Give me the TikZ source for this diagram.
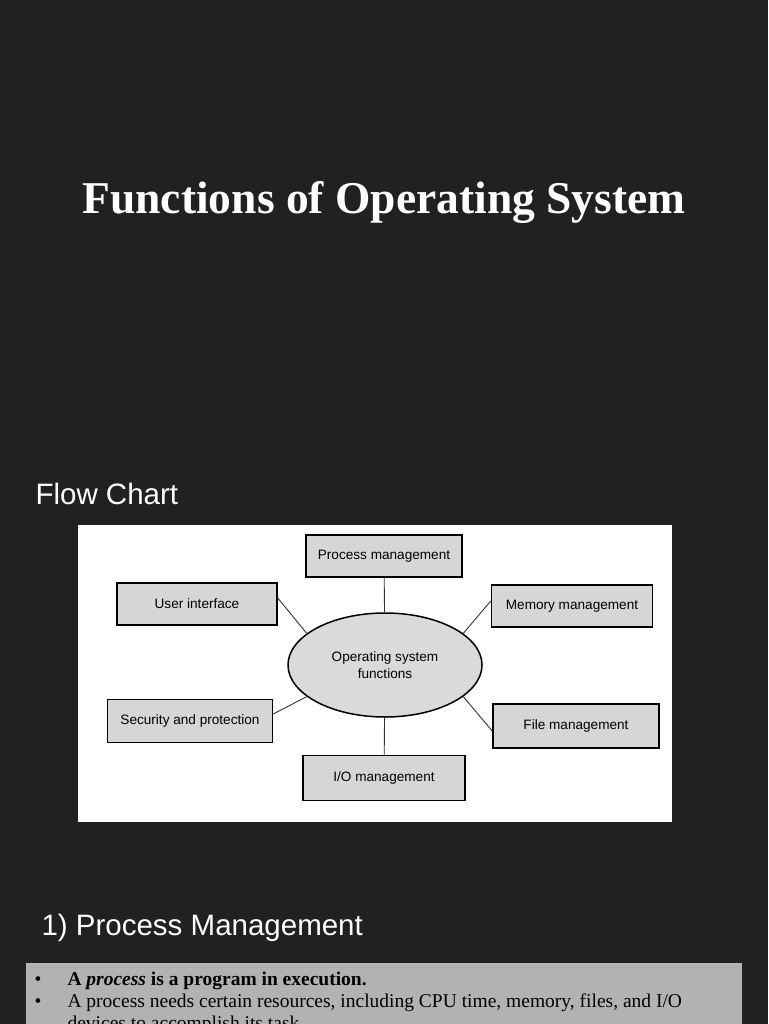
\documentclass[tikz,border=0pt]{standalone}
\usepackage{fontspec}
\setmainfont{Liberation Serif}
\newfontfamily\arialf{Liberation Sans}
\usetikzlibrary{shapes.geometric}
\definecolor{bgc}{HTML}{212121}
\definecolor{boxg}{HTML}{D6D6D6}
\definecolor{panelg}{HTML}{B2B2B2}
\begin{document}
\begin{tikzpicture}[x=1pt,y=-1pt,
  fbox/.style={draw=black,line width=1.5pt,fill=boxg,font=\arialf\fontsize{13.6}{16}\selectfont,inner sep=0pt},
  conn/.style={draw=black!80,line width=0.9pt}]
\fill[bgc] (0,0) rectangle (768,1024);
\useasboundingbox (0,0) rectangle (768,1024);
\node[font=\bfseries\fontsize{45.5}{52}\selectfont,text=white] (title) at (384,203) {Functions of Operating System};
\node[font=\arialf\fontsize{29.5}{34}\selectfont,text=white,anchor=west] (fc) at (32,494) {Flow Chart};
\fill[white] (78,525) rectangle (672,822);
\node[ellipse,draw=black,line width=1.5pt,fill=boxg!90,minimum width=194pt,minimum height=104pt,align=center,font=\arialf\fontsize{13.6}{17}\selectfont] (os) at (385,665) {Operating system\\functions};
\node[fbox,minimum width=156pt,minimum height=42pt] (pm) at (384,556) {Process management};
\node[fbox,minimum width=160pt,minimum height=42pt] (ui) at (197,604) {User interface};
\node[fbox,minimum width=161pt,minimum height=42pt] (mm) at (572,606) {Memory management};
\node[fbox,minimum width=165pt,minimum height=43pt] (sp) at (190,721) {Security and protection};
\node[fbox,minimum width=166pt,minimum height=44pt] (fm) at (576,726) {File management};
\node[fbox,minimum width=162pt,minimum height=45pt] (io) at (384,778) {I/O management};
\draw[conn] (pm) -- (os);
\draw[conn] (io) -- (os);
\draw[conn] ([yshift=6pt]ui.east) -- (os.158);
\draw[conn] ([yshift=5pt]mm.west) -- (os.22);
\draw[conn] ([yshift=7pt]sp.east) -- (os.202);
\draw[conn] ([yshift=-5pt]fm.west) -- (os.-22);
\node[font=\arialf\fontsize{29.5}{34}\selectfont,text=white,anchor=west] (pmh) at (38,928) {1) Process Management};
\fill[panelg] (26,963) rectangle (742,1030);
\node[anchor=west,font=\fontsize{19.5}{22}\selectfont] (b1) at (31,981) {\textbullet};
\node[anchor=west,font=\bfseries\fontsize{19.5}{22}\selectfont] (t1) at (64,981) {A \textit{process} is a program in execution.};
\node[anchor=west,font=\fontsize{19.5}{22}\selectfont] (b2) at (31,1003) {\textbullet};
\node[anchor=west,font=\fontsize{19.5}{22}\selectfont] (t2) at (64,1003) {A process needs certain resources, including CPU time, memory, files, and I/O};
\node[anchor=west,font=\fontsize{19.5}{22}\selectfont] (t3) at (64,1025) {devices to accomplish its task.};
\end{tikzpicture}
\end{document}
